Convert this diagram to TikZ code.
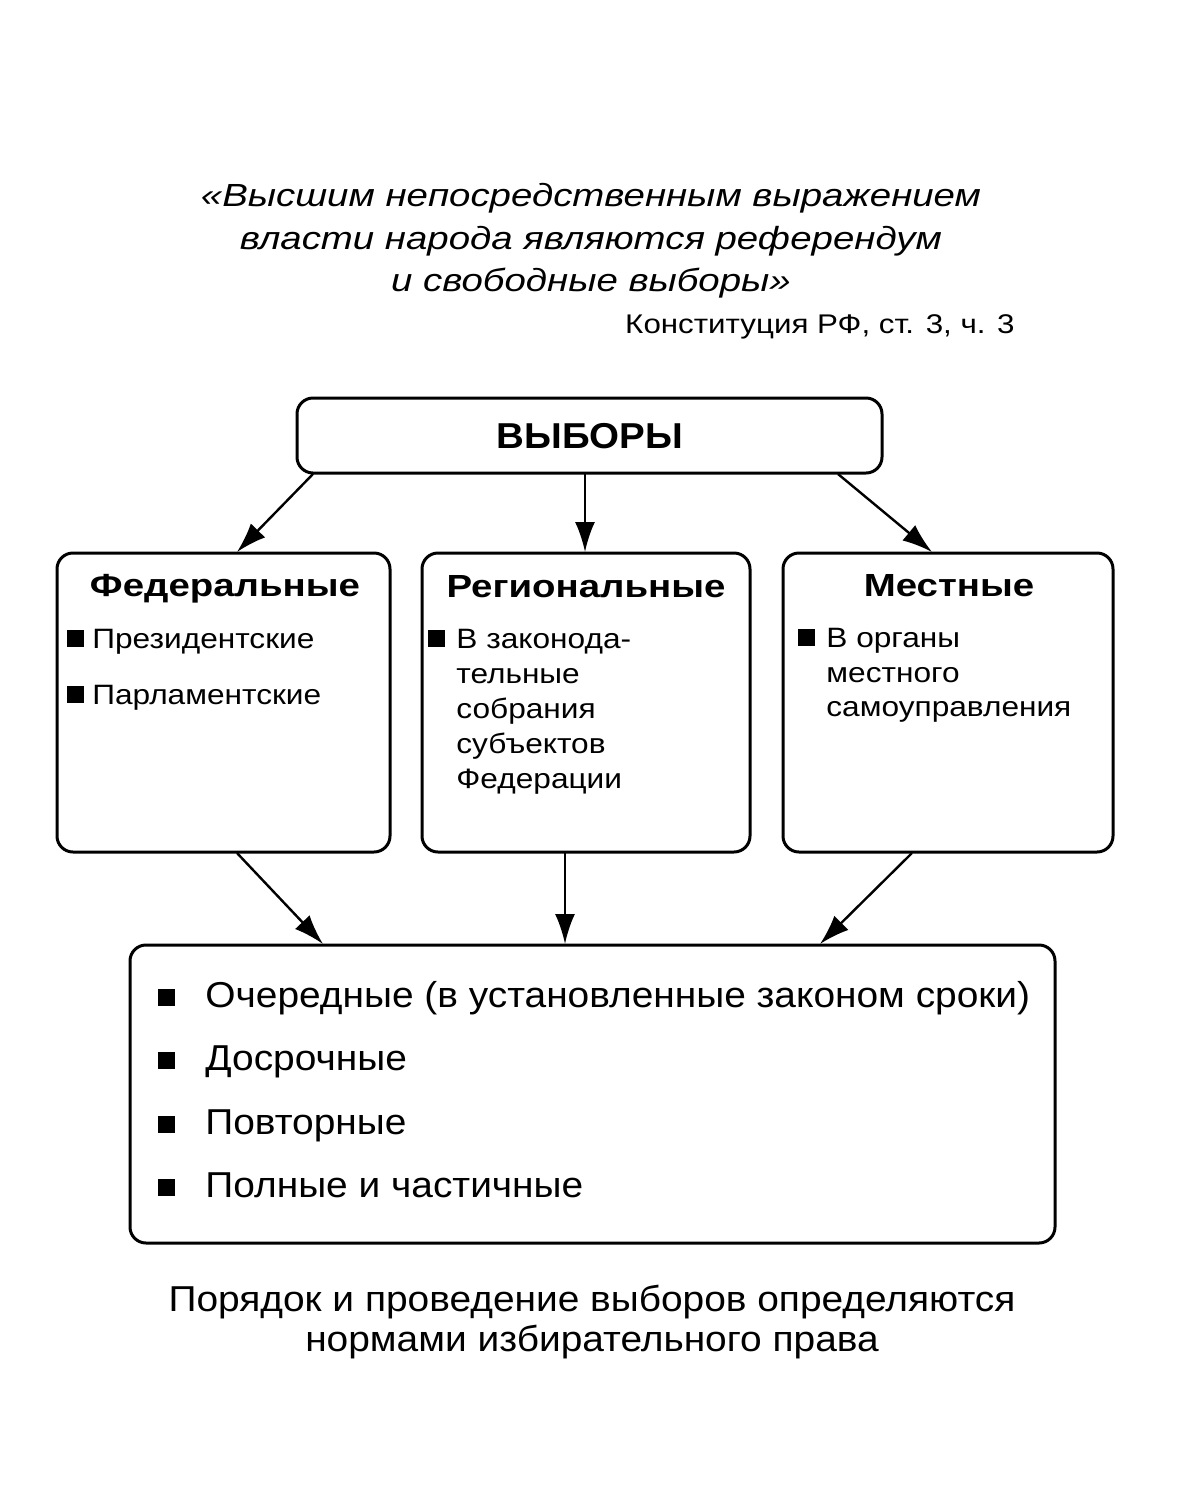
\documentclass[tikz,border=0pt]{standalone}
\usepackage{fontspec}
\setmainfont{Liberation Sans}
\newfontfamily\fQuote[FakeStretch=1.2]{Liberation Sans}
\newfontfamily\fSrc[FakeStretch=1.16]{Liberation Sans}
\newfontfamily\fHead[FakeStretch=1.07]{Liberation Sans}
\newfontfamily\fTitle[FakeStretch=1.2]{Liberation Sans}
\newfontfamily\fSmall[FakeStretch=1.13]{Liberation Sans}
\newfontfamily\fBig[FakeStretch=1.08]{Liberation Sans}
\usetikzlibrary{arrows.meta}
\tikzset{
  box/.style={draw, line width=1.5pt, rounded corners=8pt},
  arr/.style={line width=1.2pt, -{Latex[length=15pt,width=10pt]}},
  bul/.style={fill=black, minimum size=8.5pt, inner sep=0pt},
  txt/.style={inner sep=0pt, anchor=base},
  quote/.style={txt, font=\fontsize{16}{20}\fQuote\itshape},
  title/.style={txt, font=\fontsize{16}{20}\fTitle\bfseries},
  small/.style={txt, anchor=base west, font=\fontsize{14}{17}\fSmall},
  big/.style={txt, anchor=base west, font=\fontsize{18}{20}\fBig},
  foot/.style={txt, font=\fontsize{18}{20}\fBig},
}
\begin{document}
\begin{tikzpicture}[x=0.5pt,y=-0.5pt]
\useasboundingbox (0,0) rectangle (1200,1500);
% quote
\node[quote] (q1) at (591,206) {«Высшим непосредственным выражением};
\node[quote] (q2) at (591,249) {власти народа являются референдум};
\node[quote] (q3) at (591,291) {и свободные выборы»};
\node[txt, anchor=base east, font=\fontsize{13.5}{16}\fSrc] (src) at (1015,333) {Конституция РФ, ст. 3, ч. 3};
% top box
\draw[box] (297,398) rectangle (882,473);
\node[txt, font=\fontsize{18}{20}\fHead\bfseries] (vyb) at (590,448) {ВЫБОРЫ};
\coordinate (vL) at (313,474);
\coordinate (vM) at (585,474);
\coordinate (vR) at (838,474);
% three boxes
\draw[box] (57,553) rectangle (390,852);
\draw[box] (422,553) rectangle (750,852);
\draw[box] (783,553) rectangle (1113,852);
\coordinate (fT) at (237,552);
\coordinate (rT) at (585,552);
\coordinate (mT) at (932,552);
\coordinate (fB) at (237,853);
\coordinate (rB) at (565,853);
\coordinate (mB) at (912,853);
\node[title] (fed) at (225,596) {Федеральные};
\node[title] (reg) at (586,597) {Региональные};
\node[title] (mes) at (949,596) {Местные};
\node[bul] (b1) at (75,638) {};
\node[small] (t1) at (92,648) {Президентские};
\node[bul] (b2) at (75,694) {};
\node[small] (t2) at (92,704) {Парламентские};
\node[bul] (b3) at (436,638) {};
\node[small] (t3a) at (456,648) {В законода-};
\node[small] (t3b) at (456,683) {тельные};
\node[small] (t3c) at (456,718) {собрания};
\node[small] (t3d) at (456,753) {субъектов};
\node[small] (t3e) at (456,788) {Федерации};
\node[bul] (b4) at (806,637) {};
\node[small] (t4a) at (826,647) {В органы};
\node[small] (t4b) at (826,682) {местного};
\node[small] (t4c) at (826,716) {самоуправления};
% bottom box
\draw[box] (130,945) rectangle (1055,1243);
\coordinate (bL) at (323,944);
\coordinate (bM) at (565,944);
\coordinate (bR) at (820,944);
\node[bul] (c1) at (166,997) {};
\node[big] (d1) at (205,1007) {Очередные (в установленные законом сроки)};
\node[bul] (c2) at (166,1060) {};
\node[big] (d2) at (205,1070) {Досрочные};
\node[bul] (c3) at (166,1124) {};
\node[big] (d3) at (205,1134) {Повторные};
\node[bul] (c4) at (166,1187) {};
\node[big] (d4) at (205,1197) {Полные и частичные};
% footer
\node[foot] (f1) at (592,1311) {Порядок и проведение выборов определяются};
\node[foot] (f2) at (592,1351) {нормами избирательного права};
% arrows
\draw[arr] (vL) -- (fT);
\draw[arr] (vM) -- (rT);
\draw[arr] (vR) -- (mT);
\draw[arr] (fB) -- (bL);
\draw[arr] (rB) -- (bM);
\draw[arr] (mB) -- (bR);
\end{tikzpicture}
\end{document}
